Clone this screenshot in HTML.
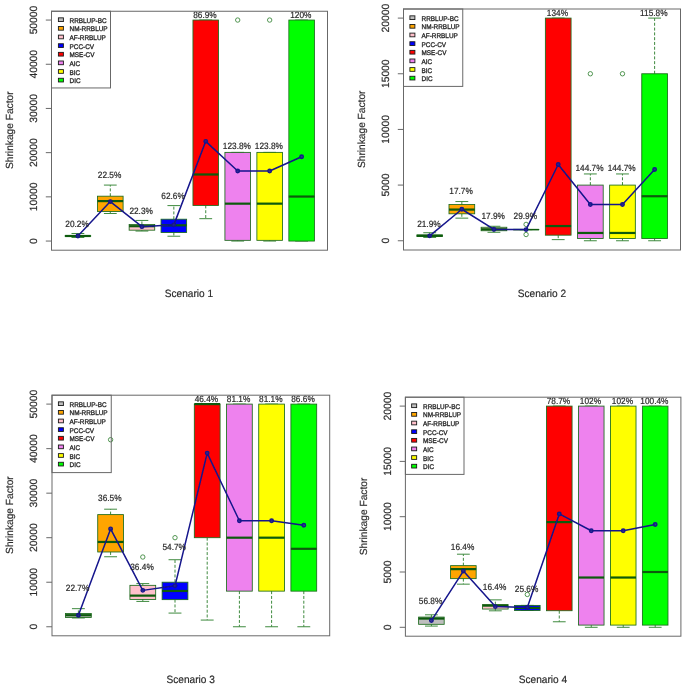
<!DOCTYPE html>
<html><head><meta charset="utf-8"><title>Shrinkage Factor</title>
<style>
html,body{margin:0;padding:0;background:#fff;}
svg{display:block;font-family:"Liberation Sans",sans-serif;text-rendering:geometricPrecision;}
</style></head><body>
<svg width="684" height="685" viewBox="0 0 684 685">
<defs><filter id="soft" x="0" y="0" width="684" height="685" filterUnits="userSpaceOnUse"><feGaussianBlur stdDeviation="0.45"/></filter></defs>
<rect width="684" height="685" fill="#fff"/>
<g filter="url(#soft)">
<g>
<line x1="77.9" y1="235.7" x2="77.9" y2="233.49" stroke="#3f8a3f" stroke-width="1" stroke-dasharray="3,1.8"/>
<line x1="77.9" y1="236.28" x2="77.9" y2="237.47" stroke="#3f8a3f" stroke-width="1" stroke-dasharray="3,1.8"/>
<line x1="71.51" y1="233.49" x2="84.29" y2="233.49" stroke="#3f8a3f" stroke-width="1"/>
<line x1="71.51" y1="237.47" x2="84.29" y2="237.47" stroke="#3f8a3f" stroke-width="1"/>
<rect x="65.12" y="235.7" width="25.57" height="0.57" fill="#BEBEBE" stroke="#1c6b1c" stroke-width="0.85"/>
<line x1="65.12" y1="235.99" x2="90.68" y2="235.99" stroke="#0b5a0b" stroke-width="2.2"/>
<line x1="110.31" y1="196.19" x2="110.31" y2="185.09" stroke="#3f8a3f" stroke-width="1" stroke-dasharray="3,1.8"/>
<line x1="110.31" y1="211.44" x2="110.31" y2="213.51" stroke="#3f8a3f" stroke-width="1" stroke-dasharray="3,1.8"/>
<line x1="103.92" y1="185.09" x2="116.7" y2="185.09" stroke="#3f8a3f" stroke-width="1"/>
<line x1="103.92" y1="213.51" x2="116.7" y2="213.51" stroke="#3f8a3f" stroke-width="1"/>
<rect x="97.53" y="196.19" width="25.57" height="15.25" fill="#FFA500" stroke="#1c6b1c" stroke-width="0.85"/>
<line x1="97.53" y1="201.09" x2="123.09" y2="201.09" stroke="#0b5a0b" stroke-width="2.2"/>
<line x1="141.92" y1="224.43" x2="141.92" y2="220.45" stroke="#3f8a3f" stroke-width="1" stroke-dasharray="3,1.8"/>
<line x1="141.92" y1="230.18" x2="141.92" y2="231.06" stroke="#3f8a3f" stroke-width="1" stroke-dasharray="3,1.8"/>
<line x1="135.53" y1="220.45" x2="148.31" y2="220.45" stroke="#3f8a3f" stroke-width="1"/>
<line x1="135.53" y1="231.06" x2="148.31" y2="231.06" stroke="#3f8a3f" stroke-width="1"/>
<rect x="129.14" y="224.43" width="25.57" height="5.75" fill="#FFC0CB" stroke="#1c6b1c" stroke-width="0.85"/>
<line x1="129.14" y1="226.2" x2="154.7" y2="226.2" stroke="#0b5a0b" stroke-width="2.2"/>
<line x1="173.83" y1="219.22" x2="173.83" y2="205.6" stroke="#3f8a3f" stroke-width="1" stroke-dasharray="3,1.8"/>
<line x1="173.83" y1="232.52" x2="173.83" y2="236.23" stroke="#3f8a3f" stroke-width="1" stroke-dasharray="3,1.8"/>
<line x1="167.44" y1="205.6" x2="180.22" y2="205.6" stroke="#3f8a3f" stroke-width="1"/>
<line x1="167.44" y1="236.23" x2="180.22" y2="236.23" stroke="#3f8a3f" stroke-width="1"/>
<rect x="161.05" y="219.22" width="25.57" height="13.3" fill="#0000FF" stroke="#1c6b1c" stroke-width="0.85"/>
<line x1="161.05" y1="225.31" x2="186.61" y2="225.31" stroke="#0b5a0b" stroke-width="2.2"/>
<line x1="205.74" y1="205.42" x2="205.74" y2="218.68" stroke="#3f8a3f" stroke-width="1" stroke-dasharray="3,1.8"/>
<line x1="199.35" y1="20.05" x2="212.13" y2="20.05" stroke="#3f8a3f" stroke-width="1"/>
<line x1="199.35" y1="218.68" x2="212.13" y2="218.68" stroke="#3f8a3f" stroke-width="1"/>
<rect x="192.96" y="20.05" width="25.57" height="185.37" fill="#FF0000" stroke="#1c6b1c" stroke-width="0.85"/>
<line x1="192.96" y1="174.48" x2="218.52" y2="174.48" stroke="#0b5a0b" stroke-width="2.2"/>
<line x1="237.7" y1="240.34" x2="237.7" y2="241.05" stroke="#3f8a3f" stroke-width="1" stroke-dasharray="3,1.8"/>
<line x1="231.31" y1="152.38" x2="244.09" y2="152.38" stroke="#3f8a3f" stroke-width="1"/>
<line x1="231.31" y1="241.05" x2="244.09" y2="241.05" stroke="#3f8a3f" stroke-width="1"/>
<rect x="224.92" y="152.38" width="25.57" height="87.96" fill="#EE82EE" stroke="#1c6b1c" stroke-width="0.85"/>
<line x1="224.92" y1="203.66" x2="250.48" y2="203.66" stroke="#0b5a0b" stroke-width="2.2"/>
<circle cx="237.7" cy="20.05" r="2.2" fill="none" stroke="#3f8a3f" stroke-width="0.9"/>
<line x1="269.66" y1="240.34" x2="269.66" y2="241.05" stroke="#3f8a3f" stroke-width="1" stroke-dasharray="3,1.8"/>
<line x1="263.27" y1="152.38" x2="276.05" y2="152.38" stroke="#3f8a3f" stroke-width="1"/>
<line x1="263.27" y1="241.05" x2="276.05" y2="241.05" stroke="#3f8a3f" stroke-width="1"/>
<rect x="256.88" y="152.38" width="25.57" height="87.96" fill="#FFFF00" stroke="#1c6b1c" stroke-width="0.85"/>
<line x1="256.88" y1="203.66" x2="282.44" y2="203.66" stroke="#0b5a0b" stroke-width="2.2"/>
<circle cx="269.66" cy="20.05" r="2.2" fill="none" stroke="#3f8a3f" stroke-width="0.9"/>
<line x1="295.23" y1="20.05" x2="308.01" y2="20.05" stroke="#3f8a3f" stroke-width="1"/>
<line x1="295.23" y1="241.05" x2="308.01" y2="241.05" stroke="#3f8a3f" stroke-width="1"/>
<rect x="288.84" y="20.05" width="25.57" height="221" fill="#00FF00" stroke="#1c6b1c" stroke-width="0.85"/>
<line x1="288.84" y1="196.58" x2="314.4" y2="196.58" stroke="#0b5a0b" stroke-width="2.2"/>
<polyline points="77.9,235.99 110.31,201.58 141.92,226.64 173.83,224.87 205.74,141.33 237.7,170.95 269.66,170.95 301.62,156.8" fill="none" stroke="#14148c" stroke-width="1.5" stroke-linejoin="round"/>
<circle cx="77.9" cy="235.99" r="1.75" fill="#2a2a94" fill-opacity="0.7" stroke="#14148c" stroke-width="1.4"/>
<circle cx="110.31" cy="201.58" r="1.75" fill="#2a2a94" fill-opacity="0.7" stroke="#14148c" stroke-width="1.4"/>
<circle cx="141.92" cy="226.64" r="1.75" fill="#2a2a94" fill-opacity="0.7" stroke="#14148c" stroke-width="1.4"/>
<circle cx="173.83" cy="224.87" r="1.75" fill="#2a2a94" fill-opacity="0.7" stroke="#14148c" stroke-width="1.4"/>
<circle cx="205.74" cy="141.33" r="1.75" fill="#2a2a94" fill-opacity="0.7" stroke="#14148c" stroke-width="1.4"/>
<circle cx="237.7" cy="170.95" r="1.75" fill="#2a2a94" fill-opacity="0.7" stroke="#14148c" stroke-width="1.4"/>
<circle cx="269.66" cy="170.95" r="1.75" fill="#2a2a94" fill-opacity="0.7" stroke="#14148c" stroke-width="1.4"/>
<circle cx="301.62" cy="156.8" r="1.75" fill="#2a2a94" fill-opacity="0.7" stroke="#14148c" stroke-width="1.4"/>
<text transform="translate(77.1,226.6) scale(0.91,1)" text-anchor="middle" font-size="9.1" fill="#2b2b2b" stroke="#2b2b2b" stroke-width="0.22">20.2%</text>
<text transform="translate(109.51,177.9) scale(0.91,1)" text-anchor="middle" font-size="9.1" fill="#2b2b2b" stroke="#2b2b2b" stroke-width="0.22">22.5%</text>
<text transform="translate(141.12,214.4) scale(0.91,1)" text-anchor="middle" font-size="9.1" fill="#2b2b2b" stroke="#2b2b2b" stroke-width="0.22">22.3%</text>
<text transform="translate(173.03,198.5) scale(0.91,1)" text-anchor="middle" font-size="9.1" fill="#2b2b2b" stroke="#2b2b2b" stroke-width="0.22">62.6%</text>
<text transform="translate(204.94,18.2) scale(0.91,1)" text-anchor="middle" font-size="9.1" fill="#2b2b2b" stroke="#2b2b2b" stroke-width="0.22">86.9%</text>
<text transform="translate(236.9,148.6) scale(0.91,1)" text-anchor="middle" font-size="9.1" fill="#2b2b2b" stroke="#2b2b2b" stroke-width="0.22">123.8%</text>
<text transform="translate(268.86,148.6) scale(0.91,1)" text-anchor="middle" font-size="9.1" fill="#2b2b2b" stroke="#2b2b2b" stroke-width="0.22">123.8%</text>
<text transform="translate(300.82,18.2) scale(0.91,1)" text-anchor="middle" font-size="9.1" fill="#2b2b2b" stroke="#2b2b2b" stroke-width="0.22">120%</text>
<rect x="51.5" y="11.25" width="276" height="238.95" fill="none" stroke="#686868" stroke-width="1"/>
<line x1="45.8" y1="241.05" x2="51.5" y2="241.05" stroke="#686868" stroke-width="1"/>
<text transform="translate(37.4,241.05) rotate(-90) scale(0.98,1)" text-anchor="middle" font-size="10.5" fill="#2b2b2b" stroke="#2b2b2b" stroke-width="0.18">0</text>
<line x1="45.8" y1="196.85" x2="51.5" y2="196.85" stroke="#686868" stroke-width="1"/>
<text transform="translate(37.4,196.85) rotate(-90) scale(0.98,1)" text-anchor="middle" font-size="10.5" fill="#2b2b2b" stroke="#2b2b2b" stroke-width="0.18">10000</text>
<line x1="45.8" y1="152.65" x2="51.5" y2="152.65" stroke="#686868" stroke-width="1"/>
<text transform="translate(37.4,152.65) rotate(-90) scale(0.98,1)" text-anchor="middle" font-size="10.5" fill="#2b2b2b" stroke="#2b2b2b" stroke-width="0.18">20000</text>
<line x1="45.8" y1="108.45" x2="51.5" y2="108.45" stroke="#686868" stroke-width="1"/>
<text transform="translate(37.4,108.45) rotate(-90) scale(0.98,1)" text-anchor="middle" font-size="10.5" fill="#2b2b2b" stroke="#2b2b2b" stroke-width="0.18">30000</text>
<line x1="45.8" y1="64.25" x2="51.5" y2="64.25" stroke="#686868" stroke-width="1"/>
<text transform="translate(37.4,64.25) rotate(-90) scale(0.98,1)" text-anchor="middle" font-size="10.5" fill="#2b2b2b" stroke="#2b2b2b" stroke-width="0.18">40000</text>
<line x1="45.8" y1="20.05" x2="51.5" y2="20.05" stroke="#686868" stroke-width="1"/>
<text transform="translate(37.4,20.05) rotate(-90) scale(0.98,1)" text-anchor="middle" font-size="10.5" fill="#2b2b2b" stroke="#2b2b2b" stroke-width="0.18">50000</text>
<text transform="translate(13.4,130.2) rotate(-90) scale(0.985,1)" text-anchor="middle" font-size="10.35" fill="#2b2b2b" stroke="#2b2b2b" stroke-width="0.18">Shrinkage Factor</text>
<text transform="translate(189,297) scale(0.955,1)" text-anchor="middle" font-size="10.6" fill="#2b2b2b" stroke="#2b2b2b" stroke-width="0.18">Scenario 1</text>
<rect x="51.5" y="11.25" width="59" height="76.7" fill="none" stroke="#686868" stroke-width="1"/>
<rect x="58.4" y="17.85" width="5" height="3.7" fill="#BEBEBE" stroke="#1a1a1a" stroke-width="0.9"/>
<text transform="translate(69.5,22.8) scale(0.95,1)" font-size="6.75" fill="#2b2b2b" stroke="#2b2b2b" stroke-width="0.32">RRBLUP-BC</text>
<rect x="58.4" y="26.48" width="5" height="3.7" fill="#FFA500" stroke="#1a1a1a" stroke-width="0.9"/>
<text transform="translate(69.5,31.43) scale(0.95,1)" font-size="6.75" fill="#2b2b2b" stroke="#2b2b2b" stroke-width="0.32">NM-RRBLUP</text>
<rect x="58.4" y="35.11" width="5" height="3.7" fill="#FFC0CB" stroke="#1a1a1a" stroke-width="0.9"/>
<text transform="translate(69.5,40.06) scale(0.95,1)" font-size="6.75" fill="#2b2b2b" stroke="#2b2b2b" stroke-width="0.32">AF-RRBLUP</text>
<rect x="58.4" y="43.74" width="5" height="3.7" fill="#0000FF" stroke="#1a1a1a" stroke-width="0.9"/>
<text transform="translate(69.5,48.69) scale(0.95,1)" font-size="6.75" fill="#2b2b2b" stroke="#2b2b2b" stroke-width="0.32">PCC-CV</text>
<rect x="58.4" y="52.37" width="5" height="3.7" fill="#FF0000" stroke="#1a1a1a" stroke-width="0.9"/>
<text transform="translate(69.5,57.32) scale(0.95,1)" font-size="6.75" fill="#2b2b2b" stroke="#2b2b2b" stroke-width="0.32">MSE-CV</text>
<rect x="58.4" y="61" width="5" height="3.7" fill="#EE82EE" stroke="#1a1a1a" stroke-width="0.9"/>
<text transform="translate(69.5,65.95) scale(0.95,1)" font-size="6.75" fill="#2b2b2b" stroke="#2b2b2b" stroke-width="0.32">AIC</text>
<rect x="58.4" y="69.63" width="5" height="3.7" fill="#FFFF00" stroke="#1a1a1a" stroke-width="0.9"/>
<text transform="translate(69.5,74.58) scale(0.95,1)" font-size="6.75" fill="#2b2b2b" stroke="#2b2b2b" stroke-width="0.32">BIC</text>
<rect x="58.4" y="78.26" width="5" height="3.7" fill="#00FF00" stroke="#1a1a1a" stroke-width="0.9"/>
<text transform="translate(69.5,83.21) scale(0.95,1)" font-size="6.75" fill="#2b2b2b" stroke="#2b2b2b" stroke-width="0.32">DIC</text>
</g>
<g>
<line x1="429.7" y1="234.96" x2="429.7" y2="232.73" stroke="#3f8a3f" stroke-width="1" stroke-dasharray="3,1.8"/>
<line x1="429.7" y1="236.52" x2="429.7" y2="237.41" stroke="#3f8a3f" stroke-width="1" stroke-dasharray="3,1.8"/>
<line x1="423.27" y1="232.73" x2="436.13" y2="232.73" stroke="#3f8a3f" stroke-width="1"/>
<line x1="423.27" y1="237.41" x2="436.13" y2="237.41" stroke="#3f8a3f" stroke-width="1"/>
<rect x="416.85" y="234.96" width="25.7" height="1.56" fill="#BEBEBE" stroke="#1c6b1c" stroke-width="0.85"/>
<line x1="416.85" y1="235.74" x2="442.55" y2="235.74" stroke="#0b5a0b" stroke-width="2.2"/>
<line x1="461.83" y1="204.57" x2="461.83" y2="201.56" stroke="#3f8a3f" stroke-width="1" stroke-dasharray="3,1.8"/>
<line x1="461.83" y1="213.81" x2="461.83" y2="218.15" stroke="#3f8a3f" stroke-width="1" stroke-dasharray="3,1.8"/>
<line x1="455.4" y1="201.56" x2="468.26" y2="201.56" stroke="#3f8a3f" stroke-width="1"/>
<line x1="455.4" y1="218.15" x2="468.26" y2="218.15" stroke="#3f8a3f" stroke-width="1"/>
<rect x="448.98" y="204.57" width="25.7" height="9.24" fill="#FFA500" stroke="#1c6b1c" stroke-width="0.85"/>
<line x1="448.98" y1="209.58" x2="474.68" y2="209.58" stroke="#0b5a0b" stroke-width="2.2"/>
<line x1="493.96" y1="227.28" x2="493.96" y2="226.28" stroke="#3f8a3f" stroke-width="1" stroke-dasharray="3,1.8"/>
<line x1="493.96" y1="230.73" x2="493.96" y2="232.29" stroke="#3f8a3f" stroke-width="1" stroke-dasharray="3,1.8"/>
<line x1="487.53" y1="226.28" x2="500.39" y2="226.28" stroke="#3f8a3f" stroke-width="1"/>
<line x1="487.53" y1="232.29" x2="500.39" y2="232.29" stroke="#3f8a3f" stroke-width="1"/>
<rect x="481.11" y="227.28" width="25.7" height="3.45" fill="#FFC0CB" stroke="#1c6b1c" stroke-width="0.85"/>
<line x1="481.11" y1="229.28" x2="506.81" y2="229.28" stroke="#0b5a0b" stroke-width="2.2"/>
<line x1="519.66" y1="229.62" x2="532.52" y2="229.62" stroke="#3f8a3f" stroke-width="1"/>
<line x1="519.66" y1="229.62" x2="532.52" y2="229.62" stroke="#3f8a3f" stroke-width="1"/>
<rect x="513.24" y="229.62" width="25.7" height="0.01" fill="#0000FF" stroke="#1c6b1c" stroke-width="0.85"/>
<line x1="513.24" y1="229.62" x2="538.94" y2="229.62" stroke="#0b5a0b" stroke-width="1.5"/>
<circle cx="526.09" cy="224.39" r="2.2" fill="none" stroke="#3f8a3f" stroke-width="0.9"/>
<circle cx="526.09" cy="234.52" r="2.2" fill="none" stroke="#3f8a3f" stroke-width="0.9"/>
<line x1="558.22" y1="235.18" x2="558.22" y2="239.64" stroke="#3f8a3f" stroke-width="1" stroke-dasharray="3,1.8"/>
<line x1="551.79" y1="18.1" x2="564.65" y2="18.1" stroke="#3f8a3f" stroke-width="1"/>
<line x1="551.79" y1="239.64" x2="564.65" y2="239.64" stroke="#3f8a3f" stroke-width="1"/>
<rect x="545.37" y="18.1" width="25.7" height="217.08" fill="#FF0000" stroke="#1c6b1c" stroke-width="0.85"/>
<line x1="545.37" y1="226.06" x2="571.07" y2="226.06" stroke="#0b5a0b" stroke-width="2.2"/>
<line x1="590.35" y1="185.09" x2="590.35" y2="173.95" stroke="#3f8a3f" stroke-width="1" stroke-dasharray="3,1.8"/>
<line x1="590.35" y1="238.52" x2="590.35" y2="240.75" stroke="#3f8a3f" stroke-width="1" stroke-dasharray="3,1.8"/>
<line x1="583.92" y1="173.95" x2="596.78" y2="173.95" stroke="#3f8a3f" stroke-width="1"/>
<line x1="583.92" y1="240.75" x2="596.78" y2="240.75" stroke="#3f8a3f" stroke-width="1"/>
<rect x="577.5" y="185.09" width="25.7" height="53.44" fill="#EE82EE" stroke="#1c6b1c" stroke-width="0.85"/>
<line x1="577.5" y1="232.96" x2="603.2" y2="232.96" stroke="#0b5a0b" stroke-width="2.2"/>
<circle cx="590.35" cy="73.76" r="2.2" fill="none" stroke="#3f8a3f" stroke-width="0.9"/>
<line x1="622.48" y1="185.09" x2="622.48" y2="173.95" stroke="#3f8a3f" stroke-width="1" stroke-dasharray="3,1.8"/>
<line x1="622.48" y1="238.52" x2="622.48" y2="240.75" stroke="#3f8a3f" stroke-width="1" stroke-dasharray="3,1.8"/>
<line x1="616.05" y1="173.95" x2="628.91" y2="173.95" stroke="#3f8a3f" stroke-width="1"/>
<line x1="616.05" y1="240.75" x2="628.91" y2="240.75" stroke="#3f8a3f" stroke-width="1"/>
<rect x="609.63" y="185.09" width="25.7" height="53.44" fill="#FFFF00" stroke="#1c6b1c" stroke-width="0.85"/>
<line x1="609.63" y1="232.96" x2="635.33" y2="232.96" stroke="#0b5a0b" stroke-width="2.2"/>
<circle cx="622.48" cy="73.76" r="2.2" fill="none" stroke="#3f8a3f" stroke-width="0.9"/>
<line x1="654.61" y1="73.76" x2="654.61" y2="18.1" stroke="#3f8a3f" stroke-width="1" stroke-dasharray="3,1.8"/>
<line x1="654.61" y1="238.52" x2="654.61" y2="240.75" stroke="#3f8a3f" stroke-width="1" stroke-dasharray="3,1.8"/>
<line x1="648.18" y1="18.1" x2="661.04" y2="18.1" stroke="#3f8a3f" stroke-width="1"/>
<line x1="648.18" y1="240.75" x2="661.04" y2="240.75" stroke="#3f8a3f" stroke-width="1"/>
<rect x="641.76" y="73.76" width="25.7" height="164.76" fill="#00FF00" stroke="#1c6b1c" stroke-width="0.85"/>
<line x1="641.76" y1="196.22" x2="667.46" y2="196.22" stroke="#0b5a0b" stroke-width="2.2"/>
<polyline points="429.7,235.85 461.83,209.25 493.96,229.39 526.09,229.62 558.22,164.49 590.35,204.46 622.48,204.46 654.61,169.5" fill="none" stroke="#14148c" stroke-width="1.5" stroke-linejoin="round"/>
<circle cx="429.7" cy="235.85" r="1.75" fill="#2a2a94" fill-opacity="0.7" stroke="#14148c" stroke-width="1.4"/>
<circle cx="461.83" cy="209.25" r="1.75" fill="#2a2a94" fill-opacity="0.7" stroke="#14148c" stroke-width="1.4"/>
<circle cx="493.96" cy="229.39" r="1.75" fill="#2a2a94" fill-opacity="0.7" stroke="#14148c" stroke-width="1.4"/>
<circle cx="526.09" cy="229.62" r="1.75" fill="#2a2a94" fill-opacity="0.7" stroke="#14148c" stroke-width="1.4"/>
<circle cx="558.22" cy="164.49" r="1.75" fill="#2a2a94" fill-opacity="0.7" stroke="#14148c" stroke-width="1.4"/>
<circle cx="590.35" cy="204.46" r="1.75" fill="#2a2a94" fill-opacity="0.7" stroke="#14148c" stroke-width="1.4"/>
<circle cx="622.48" cy="204.46" r="1.75" fill="#2a2a94" fill-opacity="0.7" stroke="#14148c" stroke-width="1.4"/>
<circle cx="654.61" cy="169.5" r="1.75" fill="#2a2a94" fill-opacity="0.7" stroke="#14148c" stroke-width="1.4"/>
<text transform="translate(428.9,227.15) scale(0.91,1)" text-anchor="middle" font-size="9.1" fill="#2b2b2b" stroke="#2b2b2b" stroke-width="0.22">21.9%</text>
<text transform="translate(461.03,194.15) scale(0.91,1)" text-anchor="middle" font-size="9.1" fill="#2b2b2b" stroke="#2b2b2b" stroke-width="0.22">17.7%</text>
<text transform="translate(493.16,219.4) scale(0.91,1)" text-anchor="middle" font-size="9.1" fill="#2b2b2b" stroke="#2b2b2b" stroke-width="0.22">17.9%</text>
<text transform="translate(525.29,219) scale(0.91,1)" text-anchor="middle" font-size="9.1" fill="#2b2b2b" stroke="#2b2b2b" stroke-width="0.22">29.9%</text>
<text transform="translate(557.42,16.2) scale(0.91,1)" text-anchor="middle" font-size="9.1" fill="#2b2b2b" stroke="#2b2b2b" stroke-width="0.22">134%</text>
<text transform="translate(589.55,170.7) scale(0.91,1)" text-anchor="middle" font-size="9.1" fill="#2b2b2b" stroke="#2b2b2b" stroke-width="0.22">144.7%</text>
<text transform="translate(621.68,170.7) scale(0.91,1)" text-anchor="middle" font-size="9.1" fill="#2b2b2b" stroke="#2b2b2b" stroke-width="0.22">144.7%</text>
<text transform="translate(653.81,16.2) scale(0.91,1)" text-anchor="middle" font-size="9.1" fill="#2b2b2b" stroke="#2b2b2b" stroke-width="0.22">115.8%</text>
<rect x="403.5" y="9" width="277" height="241" fill="none" stroke="#686868" stroke-width="1"/>
<line x1="397.8" y1="240.75" x2="403.5" y2="240.75" stroke="#686868" stroke-width="1"/>
<text transform="translate(389.3,240.75) rotate(-90) scale(0.98,1)" text-anchor="middle" font-size="10.5" fill="#2b2b2b" stroke="#2b2b2b" stroke-width="0.18">0</text>
<line x1="397.8" y1="185.09" x2="403.5" y2="185.09" stroke="#686868" stroke-width="1"/>
<text transform="translate(389.3,185.09) rotate(-90) scale(0.98,1)" text-anchor="middle" font-size="10.5" fill="#2b2b2b" stroke="#2b2b2b" stroke-width="0.18">5000</text>
<line x1="397.8" y1="129.43" x2="403.5" y2="129.43" stroke="#686868" stroke-width="1"/>
<text transform="translate(389.3,129.43) rotate(-90) scale(0.98,1)" text-anchor="middle" font-size="10.5" fill="#2b2b2b" stroke="#2b2b2b" stroke-width="0.18">10000</text>
<line x1="397.8" y1="73.76" x2="403.5" y2="73.76" stroke="#686868" stroke-width="1"/>
<text transform="translate(389.3,73.76) rotate(-90) scale(0.98,1)" text-anchor="middle" font-size="10.5" fill="#2b2b2b" stroke="#2b2b2b" stroke-width="0.18">15000</text>
<line x1="397.8" y1="18.1" x2="403.5" y2="18.1" stroke="#686868" stroke-width="1"/>
<text transform="translate(389.3,18.1) rotate(-90) scale(0.98,1)" text-anchor="middle" font-size="10.5" fill="#2b2b2b" stroke="#2b2b2b" stroke-width="0.18">20000</text>
<text transform="translate(364.9,129.3) rotate(-90) scale(0.985,1)" text-anchor="middle" font-size="10.35" fill="#2b2b2b" stroke="#2b2b2b" stroke-width="0.18">Shrinkage Factor</text>
<text transform="translate(541.9,297) scale(0.955,1)" text-anchor="middle" font-size="10.6" fill="#2b2b2b" stroke="#2b2b2b" stroke-width="0.18">Scenario 2</text>
<rect x="403.5" y="9" width="59.25" height="77.4" fill="none" stroke="#686868" stroke-width="1"/>
<rect x="409.9" y="15.85" width="5" height="3.7" fill="#BEBEBE" stroke="#1a1a1a" stroke-width="0.9"/>
<text transform="translate(421.5,20.8) scale(0.95,1)" font-size="6.75" fill="#2b2b2b" stroke="#2b2b2b" stroke-width="0.32">RRBLUP-BC</text>
<rect x="409.9" y="24.48" width="5" height="3.7" fill="#FFA500" stroke="#1a1a1a" stroke-width="0.9"/>
<text transform="translate(421.5,29.43) scale(0.95,1)" font-size="6.75" fill="#2b2b2b" stroke="#2b2b2b" stroke-width="0.32">NM-RRBLUP</text>
<rect x="409.9" y="33.11" width="5" height="3.7" fill="#FFC0CB" stroke="#1a1a1a" stroke-width="0.9"/>
<text transform="translate(421.5,38.06) scale(0.95,1)" font-size="6.75" fill="#2b2b2b" stroke="#2b2b2b" stroke-width="0.32">AF-RRBLUP</text>
<rect x="409.9" y="41.74" width="5" height="3.7" fill="#0000FF" stroke="#1a1a1a" stroke-width="0.9"/>
<text transform="translate(421.5,46.69) scale(0.95,1)" font-size="6.75" fill="#2b2b2b" stroke="#2b2b2b" stroke-width="0.32">PCC-CV</text>
<rect x="409.9" y="50.37" width="5" height="3.7" fill="#FF0000" stroke="#1a1a1a" stroke-width="0.9"/>
<text transform="translate(421.5,55.32) scale(0.95,1)" font-size="6.75" fill="#2b2b2b" stroke="#2b2b2b" stroke-width="0.32">MSE-CV</text>
<rect x="409.9" y="59" width="5" height="3.7" fill="#EE82EE" stroke="#1a1a1a" stroke-width="0.9"/>
<text transform="translate(421.5,63.95) scale(0.95,1)" font-size="6.75" fill="#2b2b2b" stroke="#2b2b2b" stroke-width="0.32">AIC</text>
<rect x="409.9" y="67.63" width="5" height="3.7" fill="#FFFF00" stroke="#1a1a1a" stroke-width="0.9"/>
<text transform="translate(421.5,72.58) scale(0.95,1)" font-size="6.75" fill="#2b2b2b" stroke="#2b2b2b" stroke-width="0.32">BIC</text>
<rect x="409.9" y="76.26" width="5" height="3.7" fill="#00FF00" stroke="#1a1a1a" stroke-width="0.9"/>
<text transform="translate(421.5,81.21) scale(0.95,1)" font-size="6.75" fill="#2b2b2b" stroke="#2b2b2b" stroke-width="0.32">DIC</text>
</g>
<g>
<line x1="78.4" y1="613.44" x2="78.4" y2="608.67" stroke="#3f8a3f" stroke-width="1" stroke-dasharray="3,1.8"/>
<line x1="78.4" y1="617.49" x2="78.4" y2="617.98" stroke="#3f8a3f" stroke-width="1" stroke-dasharray="3,1.8"/>
<line x1="71.96" y1="608.67" x2="84.84" y2="608.67" stroke="#3f8a3f" stroke-width="1"/>
<line x1="71.96" y1="617.98" x2="84.84" y2="617.98" stroke="#3f8a3f" stroke-width="1"/>
<rect x="65.52" y="613.44" width="25.76" height="4.05" fill="#BEBEBE" stroke="#1c6b1c" stroke-width="0.85"/>
<line x1="65.52" y1="615.22" x2="91.28" y2="615.22" stroke="#0b5a0b" stroke-width="2.2"/>
<line x1="110.6" y1="514.62" x2="110.6" y2="509.19" stroke="#3f8a3f" stroke-width="1" stroke-dasharray="3,1.8"/>
<line x1="110.6" y1="551.98" x2="110.6" y2="556.75" stroke="#3f8a3f" stroke-width="1" stroke-dasharray="3,1.8"/>
<line x1="104.16" y1="509.19" x2="117.04" y2="509.19" stroke="#3f8a3f" stroke-width="1"/>
<line x1="104.16" y1="556.75" x2="117.04" y2="556.75" stroke="#3f8a3f" stroke-width="1"/>
<rect x="97.72" y="514.62" width="25.76" height="37.36" fill="#FFA500" stroke="#1c6b1c" stroke-width="0.85"/>
<line x1="97.72" y1="541.96" x2="123.48" y2="541.96" stroke="#0b5a0b" stroke-width="2.2"/>
<circle cx="110.6" cy="439.72" r="2.2" fill="none" stroke="#3f8a3f" stroke-width="0.9"/>
<line x1="142.8" y1="585.34" x2="142.8" y2="583.6" stroke="#3f8a3f" stroke-width="1" stroke-dasharray="3,1.8"/>
<line x1="142.8" y1="599.41" x2="142.8" y2="601.41" stroke="#3f8a3f" stroke-width="1" stroke-dasharray="3,1.8"/>
<line x1="136.36" y1="583.6" x2="149.24" y2="583.6" stroke="#3f8a3f" stroke-width="1"/>
<line x1="136.36" y1="601.41" x2="149.24" y2="601.41" stroke="#3f8a3f" stroke-width="1"/>
<rect x="129.92" y="585.34" width="25.76" height="14.07" fill="#FFC0CB" stroke="#1c6b1c" stroke-width="0.85"/>
<line x1="129.92" y1="595.62" x2="155.68" y2="595.62" stroke="#0b5a0b" stroke-width="2.2"/>
<circle cx="142.8" cy="557.02" r="2.2" fill="none" stroke="#3f8a3f" stroke-width="0.9"/>
<line x1="175" y1="582.22" x2="175" y2="559.73" stroke="#3f8a3f" stroke-width="1" stroke-dasharray="3,1.8"/>
<line x1="175" y1="599.63" x2="175" y2="613.08" stroke="#3f8a3f" stroke-width="1" stroke-dasharray="3,1.8"/>
<line x1="168.56" y1="559.73" x2="181.44" y2="559.73" stroke="#3f8a3f" stroke-width="1"/>
<line x1="168.56" y1="613.08" x2="181.44" y2="613.08" stroke="#3f8a3f" stroke-width="1"/>
<rect x="162.12" y="582.22" width="25.76" height="17.41" fill="#0000FF" stroke="#1c6b1c" stroke-width="0.85"/>
<line x1="162.12" y1="590.95" x2="187.88" y2="590.95" stroke="#0b5a0b" stroke-width="2.2"/>
<circle cx="175" cy="537.69" r="2.2" fill="none" stroke="#3f8a3f" stroke-width="0.9"/>
<line x1="207.2" y1="537.69" x2="207.2" y2="620.07" stroke="#3f8a3f" stroke-width="1" stroke-dasharray="3,1.8"/>
<line x1="200.76" y1="404.1" x2="213.64" y2="404.1" stroke="#3f8a3f" stroke-width="1"/>
<line x1="200.76" y1="620.07" x2="213.64" y2="620.07" stroke="#3f8a3f" stroke-width="1"/>
<rect x="194.32" y="404.1" width="25.76" height="133.59" fill="#FF0000" stroke="#1c6b1c" stroke-width="0.85"/>
<line x1="194.32" y1="404.1" x2="220.08" y2="404.1" stroke="#0b5a0b" stroke-width="2.2"/>
<line x1="239.4" y1="591.13" x2="239.4" y2="626.75" stroke="#3f8a3f" stroke-width="1" stroke-dasharray="3,1.8"/>
<line x1="232.96" y1="404.1" x2="245.84" y2="404.1" stroke="#3f8a3f" stroke-width="1"/>
<line x1="232.96" y1="626.75" x2="245.84" y2="626.75" stroke="#3f8a3f" stroke-width="1"/>
<rect x="226.52" y="404.1" width="25.76" height="187.03" fill="#EE82EE" stroke="#1c6b1c" stroke-width="0.85"/>
<line x1="226.52" y1="537.69" x2="252.28" y2="537.69" stroke="#0b5a0b" stroke-width="2.2"/>
<line x1="271.6" y1="591.13" x2="271.6" y2="626.75" stroke="#3f8a3f" stroke-width="1" stroke-dasharray="3,1.8"/>
<line x1="265.16" y1="404.1" x2="278.04" y2="404.1" stroke="#3f8a3f" stroke-width="1"/>
<line x1="265.16" y1="626.75" x2="278.04" y2="626.75" stroke="#3f8a3f" stroke-width="1"/>
<rect x="258.72" y="404.1" width="25.76" height="187.03" fill="#FFFF00" stroke="#1c6b1c" stroke-width="0.85"/>
<line x1="258.72" y1="537.69" x2="284.48" y2="537.69" stroke="#0b5a0b" stroke-width="2.2"/>
<line x1="303.8" y1="591.13" x2="303.8" y2="626.75" stroke="#3f8a3f" stroke-width="1" stroke-dasharray="3,1.8"/>
<line x1="297.36" y1="404.1" x2="310.24" y2="404.1" stroke="#3f8a3f" stroke-width="1"/>
<line x1="297.36" y1="626.75" x2="310.24" y2="626.75" stroke="#3f8a3f" stroke-width="1"/>
<rect x="290.92" y="404.1" width="25.76" height="187.03" fill="#00FF00" stroke="#1c6b1c" stroke-width="0.85"/>
<line x1="290.92" y1="548.82" x2="316.68" y2="548.82" stroke="#0b5a0b" stroke-width="2.2"/>
<polyline points="78.4,615.22 110.6,528.92 142.8,590.37 175,585.83 207.2,453.08 239.4,520.77 271.6,520.77 303.8,525.22" fill="none" stroke="#14148c" stroke-width="1.5" stroke-linejoin="round"/>
<circle cx="78.4" cy="615.22" r="1.75" fill="#2a2a94" fill-opacity="0.7" stroke="#14148c" stroke-width="1.4"/>
<circle cx="110.6" cy="528.92" r="1.75" fill="#2a2a94" fill-opacity="0.7" stroke="#14148c" stroke-width="1.4"/>
<circle cx="142.8" cy="590.37" r="1.75" fill="#2a2a94" fill-opacity="0.7" stroke="#14148c" stroke-width="1.4"/>
<circle cx="175" cy="585.83" r="1.75" fill="#2a2a94" fill-opacity="0.7" stroke="#14148c" stroke-width="1.4"/>
<circle cx="207.2" cy="453.08" r="1.75" fill="#2a2a94" fill-opacity="0.7" stroke="#14148c" stroke-width="1.4"/>
<circle cx="239.4" cy="520.77" r="1.75" fill="#2a2a94" fill-opacity="0.7" stroke="#14148c" stroke-width="1.4"/>
<circle cx="271.6" cy="520.77" r="1.75" fill="#2a2a94" fill-opacity="0.7" stroke="#14148c" stroke-width="1.4"/>
<circle cx="303.8" cy="525.22" r="1.75" fill="#2a2a94" fill-opacity="0.7" stroke="#14148c" stroke-width="1.4"/>
<text transform="translate(77.6,590.65) scale(0.91,1)" text-anchor="middle" font-size="9.1" fill="#2b2b2b" stroke="#2b2b2b" stroke-width="0.22">22.7%</text>
<text transform="translate(109.8,500.9) scale(0.91,1)" text-anchor="middle" font-size="9.1" fill="#2b2b2b" stroke="#2b2b2b" stroke-width="0.22">36.5%</text>
<text transform="translate(142,569.65) scale(0.91,1)" text-anchor="middle" font-size="9.1" fill="#2b2b2b" stroke="#2b2b2b" stroke-width="0.22">36.4%</text>
<text transform="translate(174.2,550.1) scale(0.91,1)" text-anchor="middle" font-size="9.1" fill="#2b2b2b" stroke="#2b2b2b" stroke-width="0.22">54.7%</text>
<text transform="translate(206.4,402.35) scale(0.91,1)" text-anchor="middle" font-size="9.1" fill="#2b2b2b" stroke="#2b2b2b" stroke-width="0.22">46.4%</text>
<text transform="translate(238.6,402.35) scale(0.91,1)" text-anchor="middle" font-size="9.1" fill="#2b2b2b" stroke="#2b2b2b" stroke-width="0.22">81.1%</text>
<text transform="translate(270.8,402.35) scale(0.91,1)" text-anchor="middle" font-size="9.1" fill="#2b2b2b" stroke="#2b2b2b" stroke-width="0.22">81.1%</text>
<text transform="translate(303,402.35) scale(0.91,1)" text-anchor="middle" font-size="9.1" fill="#2b2b2b" stroke="#2b2b2b" stroke-width="0.22">86.6%</text>
<rect x="52" y="395.2" width="277.7" height="240.6" fill="none" stroke="#686868" stroke-width="1"/>
<line x1="46.3" y1="626.75" x2="52" y2="626.75" stroke="#686868" stroke-width="1"/>
<text transform="translate(37.4,626.75) rotate(-90) scale(0.98,1)" text-anchor="middle" font-size="10.5" fill="#2b2b2b" stroke="#2b2b2b" stroke-width="0.18">0</text>
<line x1="46.3" y1="582.22" x2="52" y2="582.22" stroke="#686868" stroke-width="1"/>
<text transform="translate(37.4,582.22) rotate(-90) scale(0.98,1)" text-anchor="middle" font-size="10.5" fill="#2b2b2b" stroke="#2b2b2b" stroke-width="0.18">10000</text>
<line x1="46.3" y1="537.69" x2="52" y2="537.69" stroke="#686868" stroke-width="1"/>
<text transform="translate(37.4,537.69) rotate(-90) scale(0.98,1)" text-anchor="middle" font-size="10.5" fill="#2b2b2b" stroke="#2b2b2b" stroke-width="0.18">20000</text>
<line x1="46.3" y1="493.16" x2="52" y2="493.16" stroke="#686868" stroke-width="1"/>
<text transform="translate(37.4,493.16) rotate(-90) scale(0.98,1)" text-anchor="middle" font-size="10.5" fill="#2b2b2b" stroke="#2b2b2b" stroke-width="0.18">30000</text>
<line x1="46.3" y1="448.63" x2="52" y2="448.63" stroke="#686868" stroke-width="1"/>
<text transform="translate(37.4,448.63) rotate(-90) scale(0.98,1)" text-anchor="middle" font-size="10.5" fill="#2b2b2b" stroke="#2b2b2b" stroke-width="0.18">40000</text>
<line x1="46.3" y1="404.1" x2="52" y2="404.1" stroke="#686868" stroke-width="1"/>
<text transform="translate(37.4,404.1) rotate(-90) scale(0.98,1)" text-anchor="middle" font-size="10.5" fill="#2b2b2b" stroke="#2b2b2b" stroke-width="0.18">50000</text>
<text transform="translate(13.4,515.1) rotate(-90) scale(0.985,1)" text-anchor="middle" font-size="10.35" fill="#2b2b2b" stroke="#2b2b2b" stroke-width="0.18">Shrinkage Factor</text>
<text transform="translate(190.75,683.25) scale(0.955,1)" text-anchor="middle" font-size="10.6" fill="#2b2b2b" stroke="#2b2b2b" stroke-width="0.18">Scenario 3</text>
<rect x="52" y="395.2" width="59.25" height="77.4" fill="none" stroke="#686868" stroke-width="1"/>
<rect x="58.4" y="401.85" width="5" height="3.7" fill="#BEBEBE" stroke="#1a1a1a" stroke-width="0.9"/>
<text transform="translate(69.5,406.8) scale(0.95,1)" font-size="6.75" fill="#2b2b2b" stroke="#2b2b2b" stroke-width="0.32">RRBLUP-BC</text>
<rect x="58.4" y="410.48" width="5" height="3.7" fill="#FFA500" stroke="#1a1a1a" stroke-width="0.9"/>
<text transform="translate(69.5,415.43) scale(0.95,1)" font-size="6.75" fill="#2b2b2b" stroke="#2b2b2b" stroke-width="0.32">NM-RRBLUP</text>
<rect x="58.4" y="419.11" width="5" height="3.7" fill="#FFC0CB" stroke="#1a1a1a" stroke-width="0.9"/>
<text transform="translate(69.5,424.06) scale(0.95,1)" font-size="6.75" fill="#2b2b2b" stroke="#2b2b2b" stroke-width="0.32">AF-RRBLUP</text>
<rect x="58.4" y="427.74" width="5" height="3.7" fill="#0000FF" stroke="#1a1a1a" stroke-width="0.9"/>
<text transform="translate(69.5,432.69) scale(0.95,1)" font-size="6.75" fill="#2b2b2b" stroke="#2b2b2b" stroke-width="0.32">PCC-CV</text>
<rect x="58.4" y="436.37" width="5" height="3.7" fill="#FF0000" stroke="#1a1a1a" stroke-width="0.9"/>
<text transform="translate(69.5,441.32) scale(0.95,1)" font-size="6.75" fill="#2b2b2b" stroke="#2b2b2b" stroke-width="0.32">MSE-CV</text>
<rect x="58.4" y="445" width="5" height="3.7" fill="#EE82EE" stroke="#1a1a1a" stroke-width="0.9"/>
<text transform="translate(69.5,449.95) scale(0.95,1)" font-size="6.75" fill="#2b2b2b" stroke="#2b2b2b" stroke-width="0.32">AIC</text>
<rect x="58.4" y="453.63" width="5" height="3.7" fill="#FFFF00" stroke="#1a1a1a" stroke-width="0.9"/>
<text transform="translate(69.5,458.58) scale(0.95,1)" font-size="6.75" fill="#2b2b2b" stroke="#2b2b2b" stroke-width="0.32">BIC</text>
<rect x="58.4" y="462.26" width="5" height="3.7" fill="#00FF00" stroke="#1a1a1a" stroke-width="0.9"/>
<text transform="translate(69.5,467.21) scale(0.95,1)" font-size="6.75" fill="#2b2b2b" stroke="#2b2b2b" stroke-width="0.32">DIC</text>
</g>
<g>
<line x1="431.4" y1="617.07" x2="431.4" y2="614.8" stroke="#3f8a3f" stroke-width="1" stroke-dasharray="3,1.8"/>
<line x1="431.4" y1="624.31" x2="431.4" y2="626.08" stroke="#3f8a3f" stroke-width="1" stroke-dasharray="3,1.8"/>
<line x1="425.01" y1="614.8" x2="437.79" y2="614.8" stroke="#3f8a3f" stroke-width="1"/>
<line x1="425.01" y1="626.08" x2="437.79" y2="626.08" stroke="#3f8a3f" stroke-width="1"/>
<rect x="418.61" y="617.07" width="25.58" height="7.24" fill="#BEBEBE" stroke="#1c6b1c" stroke-width="0.85"/>
<line x1="418.61" y1="618.56" x2="444.19" y2="618.56" stroke="#0b5a0b" stroke-width="2.2"/>
<line x1="463.37" y1="565.64" x2="463.37" y2="554.19" stroke="#3f8a3f" stroke-width="1" stroke-dasharray="3,1.8"/>
<line x1="463.37" y1="578.64" x2="463.37" y2="584.17" stroke="#3f8a3f" stroke-width="1" stroke-dasharray="3,1.8"/>
<line x1="456.98" y1="554.19" x2="469.76" y2="554.19" stroke="#3f8a3f" stroke-width="1"/>
<line x1="456.98" y1="584.17" x2="469.76" y2="584.17" stroke="#3f8a3f" stroke-width="1"/>
<rect x="450.58" y="565.64" width="25.58" height="13" fill="#FFA500" stroke="#1c6b1c" stroke-width="0.85"/>
<line x1="450.58" y1="569.12" x2="476.16" y2="569.12" stroke="#0b5a0b" stroke-width="2.2"/>
<line x1="495.34" y1="604.63" x2="495.34" y2="599.87" stroke="#3f8a3f" stroke-width="1" stroke-dasharray="3,1.8"/>
<line x1="495.34" y1="609.05" x2="495.34" y2="610.82" stroke="#3f8a3f" stroke-width="1" stroke-dasharray="3,1.8"/>
<line x1="488.95" y1="599.87" x2="501.73" y2="599.87" stroke="#3f8a3f" stroke-width="1"/>
<line x1="488.95" y1="610.82" x2="501.73" y2="610.82" stroke="#3f8a3f" stroke-width="1"/>
<rect x="482.55" y="604.63" width="25.58" height="4.42" fill="#FFC0CB" stroke="#1c6b1c" stroke-width="0.85"/>
<line x1="482.55" y1="605.62" x2="508.13" y2="605.62" stroke="#0b5a0b" stroke-width="2.2"/>
<line x1="520.92" y1="605.4" x2="533.7" y2="605.4" stroke="#3f8a3f" stroke-width="1"/>
<line x1="520.92" y1="610.49" x2="533.7" y2="610.49" stroke="#3f8a3f" stroke-width="1"/>
<rect x="514.52" y="605.4" width="25.58" height="5.09" fill="#0000FF" stroke="#1c6b1c" stroke-width="0.85"/>
<line x1="514.52" y1="607.94" x2="540.1" y2="607.94" stroke="#0b5a0b" stroke-width="2.2"/>
<circle cx="527.31" cy="594.45" r="2.2" fill="none" stroke="#3f8a3f" stroke-width="0.9"/>
<line x1="559.28" y1="610.71" x2="559.28" y2="621.77" stroke="#3f8a3f" stroke-width="1" stroke-dasharray="3,1.8"/>
<line x1="552.89" y1="406.1" x2="565.67" y2="406.1" stroke="#3f8a3f" stroke-width="1"/>
<line x1="552.89" y1="621.77" x2="565.67" y2="621.77" stroke="#3f8a3f" stroke-width="1"/>
<rect x="546.49" y="406.1" width="25.58" height="204.61" fill="#FF0000" stroke="#1c6b1c" stroke-width="0.85"/>
<line x1="546.49" y1="522.12" x2="572.07" y2="522.12" stroke="#0b5a0b" stroke-width="2.2"/>
<line x1="591.25" y1="625.09" x2="591.25" y2="627.3" stroke="#3f8a3f" stroke-width="1" stroke-dasharray="3,1.8"/>
<line x1="584.86" y1="406.1" x2="597.64" y2="406.1" stroke="#3f8a3f" stroke-width="1"/>
<line x1="584.86" y1="627.3" x2="597.64" y2="627.3" stroke="#3f8a3f" stroke-width="1"/>
<rect x="578.46" y="406.1" width="25.58" height="218.99" fill="#EE82EE" stroke="#1c6b1c" stroke-width="0.85"/>
<line x1="578.46" y1="577.53" x2="604.04" y2="577.53" stroke="#0b5a0b" stroke-width="2.2"/>
<line x1="623.22" y1="625.09" x2="623.22" y2="627.3" stroke="#3f8a3f" stroke-width="1" stroke-dasharray="3,1.8"/>
<line x1="616.83" y1="406.1" x2="629.61" y2="406.1" stroke="#3f8a3f" stroke-width="1"/>
<line x1="616.83" y1="627.3" x2="629.61" y2="627.3" stroke="#3f8a3f" stroke-width="1"/>
<rect x="610.43" y="406.1" width="25.58" height="218.99" fill="#FFFF00" stroke="#1c6b1c" stroke-width="0.85"/>
<line x1="610.43" y1="577.53" x2="636.01" y2="577.53" stroke="#0b5a0b" stroke-width="2.2"/>
<line x1="655.19" y1="625.09" x2="655.19" y2="627.3" stroke="#3f8a3f" stroke-width="1" stroke-dasharray="3,1.8"/>
<line x1="648.8" y1="406.1" x2="661.58" y2="406.1" stroke="#3f8a3f" stroke-width="1"/>
<line x1="648.8" y1="627.3" x2="661.58" y2="627.3" stroke="#3f8a3f" stroke-width="1"/>
<rect x="642.4" y="406.1" width="25.58" height="218.99" fill="#00FF00" stroke="#1c6b1c" stroke-width="0.85"/>
<line x1="642.4" y1="572" x2="667.98" y2="572" stroke="#0b5a0b" stroke-width="2.2"/>
<polyline points="431.4,620.55 463.37,571.12 495.34,606.62 527.31,607.39 559.28,513.93 591.25,530.75 623.22,530.75 655.19,524.55" fill="none" stroke="#14148c" stroke-width="1.5" stroke-linejoin="round"/>
<circle cx="431.4" cy="620.55" r="1.75" fill="#2a2a94" fill-opacity="0.7" stroke="#14148c" stroke-width="1.4"/>
<circle cx="463.37" cy="571.12" r="1.75" fill="#2a2a94" fill-opacity="0.7" stroke="#14148c" stroke-width="1.4"/>
<circle cx="495.34" cy="606.62" r="1.75" fill="#2a2a94" fill-opacity="0.7" stroke="#14148c" stroke-width="1.4"/>
<circle cx="527.31" cy="607.39" r="1.75" fill="#2a2a94" fill-opacity="0.7" stroke="#14148c" stroke-width="1.4"/>
<circle cx="559.28" cy="513.93" r="1.75" fill="#2a2a94" fill-opacity="0.7" stroke="#14148c" stroke-width="1.4"/>
<circle cx="591.25" cy="530.75" r="1.75" fill="#2a2a94" fill-opacity="0.7" stroke="#14148c" stroke-width="1.4"/>
<circle cx="623.22" cy="530.75" r="1.75" fill="#2a2a94" fill-opacity="0.7" stroke="#14148c" stroke-width="1.4"/>
<circle cx="655.19" cy="524.55" r="1.75" fill="#2a2a94" fill-opacity="0.7" stroke="#14148c" stroke-width="1.4"/>
<text transform="translate(430.6,603.65) scale(0.91,1)" text-anchor="middle" font-size="9.1" fill="#2b2b2b" stroke="#2b2b2b" stroke-width="0.22">56.8%</text>
<text transform="translate(462.57,550.4) scale(0.91,1)" text-anchor="middle" font-size="9.1" fill="#2b2b2b" stroke="#2b2b2b" stroke-width="0.22">16.4%</text>
<text transform="translate(494.54,590.15) scale(0.91,1)" text-anchor="middle" font-size="9.1" fill="#2b2b2b" stroke="#2b2b2b" stroke-width="0.22">16.4%</text>
<text transform="translate(526.51,591.7) scale(0.91,1)" text-anchor="middle" font-size="9.1" fill="#2b2b2b" stroke="#2b2b2b" stroke-width="0.22">25.6%</text>
<text transform="translate(558.48,404.1) scale(0.91,1)" text-anchor="middle" font-size="9.1" fill="#2b2b2b" stroke="#2b2b2b" stroke-width="0.22">78.7%</text>
<text transform="translate(590.45,404.1) scale(0.91,1)" text-anchor="middle" font-size="9.1" fill="#2b2b2b" stroke="#2b2b2b" stroke-width="0.22">102%</text>
<text transform="translate(622.42,404.1) scale(0.91,1)" text-anchor="middle" font-size="9.1" fill="#2b2b2b" stroke="#2b2b2b" stroke-width="0.22">102%</text>
<text transform="translate(654.39,404.1) scale(0.91,1)" text-anchor="middle" font-size="9.1" fill="#2b2b2b" stroke="#2b2b2b" stroke-width="0.22">100.4%</text>
<rect x="405.4" y="397.2" width="275.5" height="239" fill="none" stroke="#686868" stroke-width="1"/>
<line x1="399.7" y1="627.3" x2="405.4" y2="627.3" stroke="#686868" stroke-width="1"/>
<text transform="translate(391,627.3) rotate(-90) scale(0.98,1)" text-anchor="middle" font-size="10.5" fill="#2b2b2b" stroke="#2b2b2b" stroke-width="0.18">0</text>
<line x1="399.7" y1="572" x2="405.4" y2="572" stroke="#686868" stroke-width="1"/>
<text transform="translate(391,572) rotate(-90) scale(0.98,1)" text-anchor="middle" font-size="10.5" fill="#2b2b2b" stroke="#2b2b2b" stroke-width="0.18">5000</text>
<line x1="399.7" y1="516.7" x2="405.4" y2="516.7" stroke="#686868" stroke-width="1"/>
<text transform="translate(391,516.7) rotate(-90) scale(0.98,1)" text-anchor="middle" font-size="10.5" fill="#2b2b2b" stroke="#2b2b2b" stroke-width="0.18">10000</text>
<line x1="399.7" y1="461.4" x2="405.4" y2="461.4" stroke="#686868" stroke-width="1"/>
<text transform="translate(391,461.4) rotate(-90) scale(0.98,1)" text-anchor="middle" font-size="10.5" fill="#2b2b2b" stroke="#2b2b2b" stroke-width="0.18">15000</text>
<line x1="399.7" y1="406.1" x2="405.4" y2="406.1" stroke="#686868" stroke-width="1"/>
<text transform="translate(391,406.1) rotate(-90) scale(0.98,1)" text-anchor="middle" font-size="10.5" fill="#2b2b2b" stroke="#2b2b2b" stroke-width="0.18">20000</text>
<text transform="translate(366.5,516.5) rotate(-90) scale(0.985,1)" text-anchor="middle" font-size="10.35" fill="#2b2b2b" stroke="#2b2b2b" stroke-width="0.18">Shrinkage Factor</text>
<text transform="translate(542.9,683.25) scale(0.955,1)" text-anchor="middle" font-size="10.6" fill="#2b2b2b" stroke="#2b2b2b" stroke-width="0.18">Scenario 4</text>
<rect x="405.4" y="397.2" width="58.6" height="77.2" fill="none" stroke="#686868" stroke-width="1"/>
<rect x="411.65" y="403.9" width="5" height="3.7" fill="#BEBEBE" stroke="#1a1a1a" stroke-width="0.9"/>
<text transform="translate(423,408.85) scale(0.95,1)" font-size="6.75" fill="#2b2b2b" stroke="#2b2b2b" stroke-width="0.32">RRBLUP-BC</text>
<rect x="411.65" y="412.53" width="5" height="3.7" fill="#FFA500" stroke="#1a1a1a" stroke-width="0.9"/>
<text transform="translate(423,417.48) scale(0.95,1)" font-size="6.75" fill="#2b2b2b" stroke="#2b2b2b" stroke-width="0.32">NM-RRBLUP</text>
<rect x="411.65" y="421.16" width="5" height="3.7" fill="#FFC0CB" stroke="#1a1a1a" stroke-width="0.9"/>
<text transform="translate(423,426.11) scale(0.95,1)" font-size="6.75" fill="#2b2b2b" stroke="#2b2b2b" stroke-width="0.32">AF-RRBLUP</text>
<rect x="411.65" y="429.79" width="5" height="3.7" fill="#0000FF" stroke="#1a1a1a" stroke-width="0.9"/>
<text transform="translate(423,434.74) scale(0.95,1)" font-size="6.75" fill="#2b2b2b" stroke="#2b2b2b" stroke-width="0.32">PCC-CV</text>
<rect x="411.65" y="438.42" width="5" height="3.7" fill="#FF0000" stroke="#1a1a1a" stroke-width="0.9"/>
<text transform="translate(423,443.37) scale(0.95,1)" font-size="6.75" fill="#2b2b2b" stroke="#2b2b2b" stroke-width="0.32">MSE-CV</text>
<rect x="411.65" y="447.05" width="5" height="3.7" fill="#EE82EE" stroke="#1a1a1a" stroke-width="0.9"/>
<text transform="translate(423,452) scale(0.95,1)" font-size="6.75" fill="#2b2b2b" stroke="#2b2b2b" stroke-width="0.32">AIC</text>
<rect x="411.65" y="455.68" width="5" height="3.7" fill="#FFFF00" stroke="#1a1a1a" stroke-width="0.9"/>
<text transform="translate(423,460.63) scale(0.95,1)" font-size="6.75" fill="#2b2b2b" stroke="#2b2b2b" stroke-width="0.32">BIC</text>
<rect x="411.65" y="464.31" width="5" height="3.7" fill="#00FF00" stroke="#1a1a1a" stroke-width="0.9"/>
<text transform="translate(423,469.26) scale(0.95,1)" font-size="6.75" fill="#2b2b2b" stroke="#2b2b2b" stroke-width="0.32">DIC</text>
</g>
</g>
</svg>
</body></html>
